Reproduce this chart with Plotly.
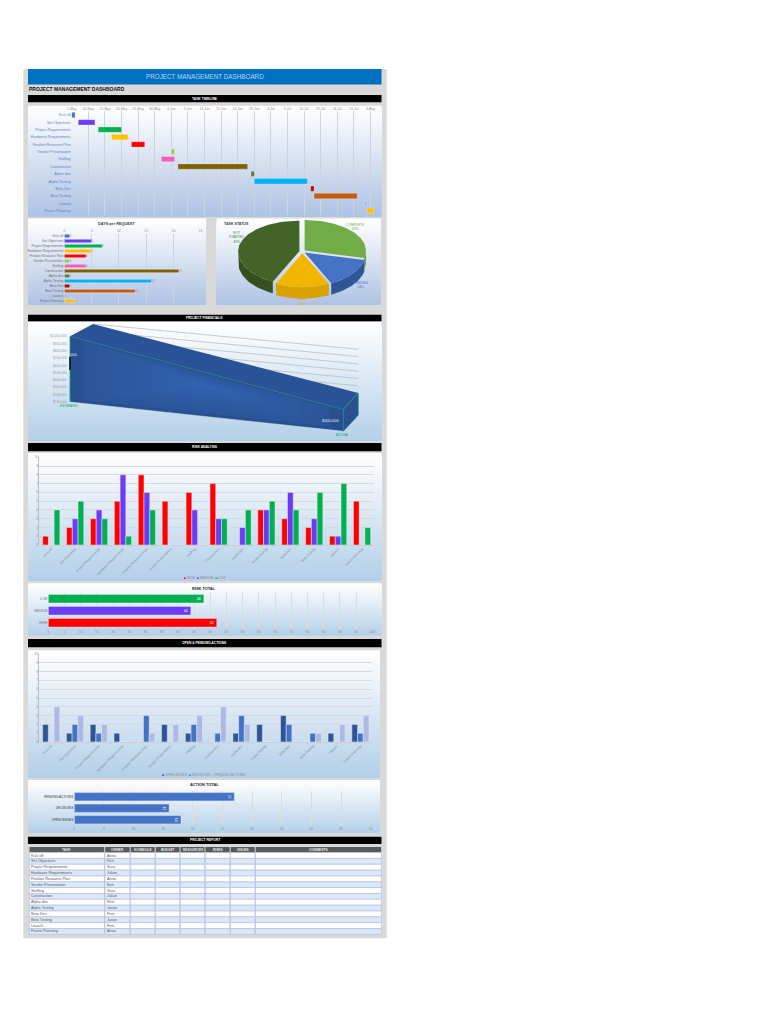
import numpy as np
import plotly.graph_objects as go

# ---------- data ----------
tasks = ["Kick off", "Set Objectives", "Project Requirements", "Hardware Requirements",
         "Finalize Resource Plan", "Vendor Presentation", "Staffing", "Construction",
         "Alpha dev", "Alpha Testing", "Beta Dev", "Beta Testing", "Launch", "Future Planning"]
owners = ["Anna", "Ken", "Sara", "Julian", "Anna", "Ken", "Sara", "Julian", "Finn", "Jason",
          "Finn", "Jason", "Finn", "Anna"]
start_dates = ["2019-05-05", "2019-05-07", "2019-05-13", "2019-05-17", "2019-05-23", "2019-06-04",
               "2019-06-01", "2019-06-06", "2019-06-28", "2019-06-29", "2019-07-16", "2019-07-17",
               "2019-08-01", "2019-08-02"]
calendar_days = [1, 5, 7, 5, 4, 1, 4, 21, 1, 16, 1, 13, 1, 2]
days_per_request = [1, 5, 7, 5, 4, 1, 4, 21, 1, 16, 1, 13, 0, 2]
task_colors = ["#4472C4", "#6A3CF7", "#00B050", "#FFC000", "#FF0000", "#92D050", "#F55FB5",
               "#7F6000", "#548235", "#00B0F0", "#C00000", "#C55A11", "#9DC3E6", "#FFC000"]
status_labels = ["COMPLETE", "PENDING", "ON HOLD", "NOT STARTED"]
status_values = [4, 2, 2, 6]
status_top = ["#70AD47", "#4472C4", "#F2B600", "#426427"]
status_side = ["#5b8f38", "#2F5597", "#D9A200", "#34501F"]
status_text = ["#70AD47", "#4472C4", "#E0A800", "#548235"]
finance_labels = ["ESTIMATED", "ACTUAL"]
finance_values = [1000000, 400000]
finance_ticks = [1000000, 900000, 800000, 700000, 600000, 500000, 400000, 300000, 200000, 100000]
risk_high = [1, 2, 3, 5, 8, 5, 6, 7, 0, 4, 3, 2, 1, 5]
risk_medium = [0, 3, 4, 8, 6, 0, 4, 3, 2, 4, 6, 3, 1, 0]
risk_low = [4, 5, 3, 1, 4, 0, 0, 3, 4, 5, 4, 6, 7, 2]
risk_total_labels = ["HIGH", "MEDIUM", "LOW"]
risk_total_values = [52, 44, 48]
open_issues = [2, 1, 2, 1, 0, 2, 1, 0, 1, 2, 3, 0, 1, 2]
decisions = [0, 2, 1, 0, 3, 0, 2, 1, 3, 0, 2, 1, 0, 1]
pending = [4, 3, 2, 0, 1, 2, 3, 4, 2, 0, 0, 1, 2, 3]
action_labels = ["OPEN ISSUES", "DECISIONS", "PENDING ACTIONS"]
action_values = [18, 16, 27]
table_headers = ["TASK", "OWNER", "SCHEDULE", "BUDGET", "RESOURCES", "RISKS", "ISSUES", "COMMENTS"]

FONT = "Liberation Sans"
W, H = 768, 1024
GREY_TXT = "#8c8c8c"
GRID = "#d9d9d9"
shapes, annos = [], []
fig = go.Figure()


def X(p): return p / W
def Y(p): return 1 - p / H


def rect(x0, y0, x1, y1, color, line=None, lw=0.6):
    shapes.append(dict(type="rect", xref="paper", yref="paper", layer="below",
                       x0=X(x0), x1=X(x1), y0=Y(y0), y1=Y(y1), fillcolor=color,
                       line=dict(color=line or color, width=lw if line else 0)))


def gradient(x0, y0, x1, y1, top, bottom, step=2):
    c0 = np.array(top); c1 = np.array(bottom)
    for y in np.arange(y0, y1, step):
        t = (y - y0) / (y1 - y0)
        c = (c0 + (c1 - c0) * t).round().astype(int)
        rect(x0, y, x1, y1, f"rgb({c[0]},{c[1]},{c[2]})")


def txt(x, y, s, size=3.6, color=GREY_TXT, anchor="center", bold=False, angle=0):
    annos.append(dict(xref="paper", yref="paper", x=X(x), y=Y(y), text=f"<b>{s}</b>" if bold else s,
                      showarrow=False, xanchor=anchor, yanchor="middle", textangle=angle,
                      font=dict(family=FONT, size=size, color=color), borderpad=0, borderwidth=0))


def black_bar(y0, y1, s):
    rect(28, y0, 381.5, y1, "#000000")
    txt(204.5, (y0 + y1) / 2, s, size=3.3, color="#ffffff", bold=True)


axis_n = {"i": 0}


def new_axes(px0, px1, py0, py1, xcfg, ycfg):
    axis_n["i"] += 1
    n = axis_n["i"]
    sx = "" if n == 1 else str(n)
    base = dict(showline=False, zeroline=False, ticks="", tickfont=dict(family=FONT, size=3.4, color=GREY_TXT))
    xa = dict(base, domain=[X(px0), X(px1)], anchor=f"y{sx}", **xcfg)
    ya = dict(base, domain=[Y(py1), Y(py0)], anchor=f"x{sx}", **ycfg)
    fig.layout[f"xaxis{sx}"] = xa
    fig.layout[f"yaxis{sx}"] = ya
    return f"x{sx}", f"y{sx}"


# ---------- page frame ----------
rect(23.3, 69, 386.7, 938.3, "#D9D9D9")
rect(28, 69, 381.5, 84.5, "#0070C0")
txt(204.5, 76.5, "PROJECT MANAGEMENT DASHBOARD", size=6.3, color="#BFD8F0")
txt(28.5, 89, "PROJECT MANAGEMENT DASHBOARD", size=5, color="#111111", anchor="left", bold=True)

BLUE_END = (173, 194, 228)
SKY_END = (178, 207, 233)
WHITE = (255, 255, 255)

# ---------- task timeline ----------
black_bar(95, 102.3, "TASK TIMELINE")
gradient(28, 105.7, 381.5, 216.5, WHITE, BLUE_END)
ax, ay = new_axes(71.7, 376, 111.3, 214.4,
                  dict(type="date", side="top", range=["2019-05-05", "2019-08-04 16:00"],
                       tick0="2019-05-05", dtick=5 * 86400000, tickformat="%-d-%b",
                       showgrid=True, gridcolor="#cfd3da", gridwidth=1, ticklabelstandoff=0),
                  dict(type="category", autorange="reversed", showgrid=False,
                       tickfont=dict(family=FONT, size=3.7, color="#5b82c9")))
fig.add_trace(go.Bar(y=tasks, x=[d * 86400000 for d in calendar_days], base=start_dates, orientation="h",
                     xaxis=ax, yaxis=ay, marker=dict(color=task_colors, line=dict(color="rgba(255,255,255,.5)", width=0.5)),
                     showlegend=False, hoverinfo="skip"))

# ---------- days per request ----------
gradient(28, 218.5, 206, 305, WHITE, BLUE_END)
txt(116.7, 224, "DAYS per REQUEST", size=3.8, color="#404040", bold=True)
ax, ay = new_axes(64.3, 200.7, 233.5, 303.5,
                  dict(side="top", range=[0, 25], tick0=0, dtick=5, showgrid=True, gridcolor="#cfd3da", ticklabelstandoff=0),
                  dict(type="category", autorange="reversed", showgrid=False,
                       tickfont=dict(family=FONT, size=3.3, color="#6e6e6e")))
fig.add_trace(go.Bar(y=tasks, x=days_per_request, orientation="h", xaxis=ax, yaxis=ay,
                     marker=dict(color=task_colors), text=days_per_request, textposition="outside",
                     textfont=dict(family=FONT, size=3.2, color=GREY_TXT), cliponaxis=False,
                     showlegend=False, hoverinfo="skip"))

# ---------- overlay axes in page pixels for the 3D pie and box ----------
px, py = new_axes(0, W, 0, H, dict(range=[0, W], visible=False), dict(range=[H, 0], visible=False))


def poly(xs, ys, fill, line="rgba(0,0,0,0)", lw=0):
    fig.add_trace(go.Scatter(x=xs, y=ys, xaxis=px, yaxis=py, mode="lines", fill="toself", fillcolor=fill,
                             line=dict(color=line, width=lw), showlegend=False, hoverinfo="skip"))


def seg(xs, ys, color, lw=0.8):
    fig.add_trace(go.Scatter(x=xs, y=ys, xaxis=px, yaxis=py, mode="lines", line=dict(color=color, width=lw),
                             showlegend=False, hoverinfo="skip"))


# ---------- task status (tilted pie worked out from the values) ----------
gradient(216.7, 218.5, 381, 305, WHITE, BLUE_END)
txt(224, 223.5, "TASK STATUS", size=3.6, color="#404040", anchor="left", bold=True)
CX, CY, RX, RT, RB, DEPTH, EXPL = 302.3, 251.5, 61.2, 30.5, 34, 11.5, 3.0


def ell(a, ox, oy):
    c = np.cos(a)
    return ox + RX * np.sin(a), oy - c * np.where(c > 0, RT, RB)


total = sum(status_values)
fr = np.cumsum([0] + status_values) / total * 2 * np.pi
slices = []
for i in range(len(status_values)):
    a = np.linspace(fr[i], fr[i + 1], 80)
    mid = (fr[i] + fr[i + 1]) / 2
    ox = CX + EXPL * np.sin(mid)
    oy = CY - EXPL * 0.55 * np.cos(mid)
    slices.append((a, ox, oy))
for i, (a, ox, oy) in enumerate(slices):
    fa = a[(np.cos(a) <= 0.02)]
    if len(fa):
        x1, y1 = ell(fa, ox, oy)
        poly(list(x1) + list(x1[::-1]), list(y1) + list((y1 + DEPTH)[::-1]), status_side[i])
for i, (a, ox, oy) in enumerate(slices):
    x1, y1 = ell(a, ox, oy)
    poly([ox] + list(x1) + [ox], [oy] + list(y1) + [oy], status_top[i])
label_pos = [(355, 226.5), (360, 284.5), (302.5, 299.5), (237, 237.5)]
for i, (lx, ly) in enumerate(label_pos):
    pct = f"{round(status_values[i] / total * 100)}%"
    words = status_labels[i].split(" ")
    txt(lx, ly, "<br>".join(words + [pct]), size=3.3, color=status_text[i])

# ---------- project financials (box worked out from the values) ----------
black_bar(314.7, 321.3, "PROJECT FINANCIALS")
gradient(28, 322, 381.5, 441, WHITE, SKY_END)
PER_100K = 7.3


def proj(t, value, depth):
    xf, xb = 70 + 273.3 * t, 93 + 265.3 * t
    bf, bb = 402 + 29.3 * t, 389.7 + 25.3 * t
    x = xf + (xb - xf) * depth
    b = bf + (bb - bf) * depth
    return x, b - (value - 100000) / 100000 * PER_100K


for v in finance_ticks[:6]:
    a = proj(0, v, 1); b = proj(1, v, 1)
    seg([a[0], b[0]], [a[1], b[1]], "#bdbdbd", 0.8)
for v in finance_ticks:
    a = proj(0, v, 0)
    txt(a[0] - 3, a[1], f"${v:,}", size=3.3, color="#999999", anchor="right")
vmin = finance_ticks[-1]
v0, v1 = finance_values
f = [proj(0, vmin, 0), proj(1, vmin, 0), proj(1, v1, 0), proj(0, v0, 0)]
t = [proj(0, v0, 0), proj(1, v1, 0), proj(1, v1, 1), proj(0, v0, 1)]
r = [proj(1, vmin, 0), proj(1, vmin, 1), proj(1, v1, 1), proj(1, v1, 0)]
poly([p[0] for p in t] + [t[0][0]], [p[1] for p in t] + [t[0][1]], "#2A5397")
poly([p[0] for p in r] + [r[0][0]], [p[1] for p in r] + [r[0][1]], "#2A5090")
poly([p[0] for p in f] + [f[0][0]], [p[1] for p in f] + [f[0][1]], "#28508F")
# soft glow on the front face, shrunk toward its centre
fx, fy = np.array([p[0] for p in f]), np.array([p[1] for p in f])
mx, my = 205.0, 385.0
c0, c1 = np.array([42, 84, 150]), np.array([50, 98, 176])
for k in range(1, 10):
    s = 1 - k / 10
    c = (c0 + (c1 - c0) * k / 9).round().astype(int)
    gx = mx + (fx - mx) * s
    gy = my + (fy - my) * s
    poly(list(gx) + [gx[0]], list(gy) + [gy[0]], f"rgb({c[0]},{c[1]},{c[2]})")
EDGE = "#12A27A"
seg([f[3][0], f[2][0], f[1][0]], [f[3][1], f[2][1], f[1][1]], "#1C7C8A", 0.7)
seg([f[0][0], f[3][0]], [f[0][1], f[3][1]], EDGE, 0.9)
seg([f[2][0], r[2][0], r[1][0]], [f[2][1], r[2][1], r[1][1]], EDGE, 0.7)
seg([f[1][0], r[1][0]], [f[1][1], r[1][1]], "#1C7C8A", 0.7)
seg([f[0][0], f[1][0]], [f[0][1], f[1][1]], "#D8E8F4", 0.5)
seg([f[3][0], f[3][0]], [357, 370], "#111111", 1.6)
txt(73.5, 354.3, "000", size=4, color="#E6EEF8")
txt(330, 420, f"${v1:,}", size=4, color="#E6EEF8")
txt(69, 405.5, finance_labels[0], size=3.2, color="#00B050")
txt(342.5, 435.3, finance_labels[1], size=3.2, color="#00B050")

# ---------- risk analysis ----------
black_bar(443, 451.3, "RISK ANALYSIS")
gradient(28, 453, 381.5, 581, WHITE, SKY_END)
ax, ay = new_axes(39.3, 374, 457.3, 545,
                  dict(type="category", tickangle=-45, showgrid=False, showline=True, linecolor="#cfcfcf", linewidth=0.6,
                       tickfont=dict(family=FONT, size=3.4, color=GREY_TXT)),
                  dict(range=[0, 10], tick0=0, dtick=1, showgrid=True, gridcolor=GRID, showline=True,
                       linecolor="#bdbdbd", linewidth=0.7, tickfont=dict(family=FONT, size=3, color=GREY_TXT)))
for name, vals, col in [("HIGH", risk_high, "#FF0000"), ("MEDIUM", risk_medium, "#6A3CF7"), ("LOW", risk_low, "#00B050")]:
    fig.add_trace(go.Bar(name=name, x=tasks, y=vals, xaxis=ax, yaxis=ay, marker_color=col, showlegend=False, hoverinfo="skip"))
txt(204.5, 578.3, '<span style="color:#FF0000">■</span> HIGH  <span style="color:#6A3CF7">■</span> MEDIUM  '
    '<span style="color:#00B050">■</span> LOW', size=3.3)

# ---------- risk total ----------
gradient(28, 583.3, 381.5, 635.3, WHITE, SKY_END)
txt(204.3, 588, "RISK TOTAL", size=3.9, color="#262626", bold=True)
ax, ay = new_axes(48.3, 372.3, 592.7, 628.7,
                  dict(range=[0, 100], tick0=0, dtick=5, showgrid=True, gridcolor="#e0dcd2"),
                  dict(type="category", autorange="reversed", showgrid=False, categoryorder="array",
                       categoryarray=risk_total_labels[::-1], tickfont=dict(family=FONT, size=3.2, color="#6e6e6e")))
fig.add_trace(go.Bar(y=risk_total_labels, x=risk_total_values, orientation="h", xaxis=ax, yaxis=ay,
                     marker=dict(color=["#FF0000", "#6A3CF7", "#00B050"], line=dict(color="rgba(255,255,255,.6)", width=0.6)),
                     text=risk_total_values, textposition="inside", insidetextanchor="end", constraintext="none",
                     textfont=dict(family=FONT, size=3.6, color="#ffffff"), showlegend=False, hoverinfo="skip"))

# ---------- open & pending actions ----------
black_bar(639, 647.3, "OPEN & PENDING ACTIONS")
gradient(28, 650.3, 380, 778, WHITE, SKY_END)
ax, ay = new_axes(39.3, 372.3, 654, 742,
                  dict(type="category", tickangle=-45, showgrid=False, showline=True, linecolor="#cfcfcf", linewidth=0.6,
                       tickfont=dict(family=FONT, size=3.4, color=GREY_TXT)),
                  dict(range=[0, 10], tick0=0, dtick=1, showgrid=True, gridcolor=GRID, showline=True,
                       linecolor="#bdbdbd", linewidth=0.7, tickfont=dict(family=FONT, size=3, color=GREY_TXT)))
for name, vals, col in [("OPEN ISSUES", open_issues, "#2F5597"), ("DECISIONS", decisions, "#4472C4"), ("PENDING ACTIONS", pending, "#ADB9E3")]:
    fig.add_trace(go.Bar(name=name, x=tasks, y=vals, xaxis=ax, yaxis=ay, marker_color=col, showlegend=False, hoverinfo="skip"))
txt(204, 774.7, '<span style="color:#2F5597">■</span> OPEN ISSUES  <span style="color:#4472C4">■</span> DECISIONS  '
    '<span style="color:#ADB9E3">■</span> PENDING ACTIONS', size=3.3)

# ---------- action total ----------
gradient(28, 780, 380, 832.5, WHITE, SKY_END)
txt(204.3, 784.7, "ACTION TOTAL", size=3.9, color="#262626", bold=True)
ax, ay = new_axes(74.3, 370.7, 791, 825.5,
                  dict(range=[0, 50], tick0=0, dtick=5, showgrid=True, gridcolor="#e0dcd2"),
                  dict(type="category", autorange="reversed", showgrid=False, categoryorder="array",
                       categoryarray=action_labels[::-1], tickfont=dict(family=FONT, size=3.2, color="#333333")))
fig.add_trace(go.Bar(y=action_labels, x=action_values, orientation="h", xaxis=ax, yaxis=ay,
                     marker=dict(color="#4472C4"), text=action_values, textposition="inside", insidetextanchor="end",
                     constraintext="none", textfont=dict(family=FONT, size=3.4, color="#ffffff"),
                     showlegend=False, hoverinfo="skip"))

# ---------- project report table ----------
black_bar(836.7, 844, "PROJECT REPORT")
col_edges = [29, 104.7, 130.2, 155.2, 180, 205, 230.2, 255.2, 381.7]
TOP, HEAD, ROW = 847, 852.6, 5.84
LINE = "#A9C0E6"
for j, name in enumerate(table_headers):
    rect(col_edges[j] + 0.5, TOP, col_edges[j + 1] - 0.5, HEAD, "#595959")
    txt((col_edges[j] + col_edges[j + 1]) / 2, (TOP + HEAD) / 2, name, size=3.2, color="#E8E8E8", bold=True)
for i, task in enumerate(tasks):
    y0 = HEAD + i * ROW
    fill = "#FFFFFF" if i % 2 == 0 else "#DCE8F6"
    for j in range(len(table_headers)):
        rect(col_edges[j] + 0.3, y0, col_edges[j + 1] - 0.3, y0 + ROW, fill, LINE, 0.6)
    txt(31, y0 + ROW / 2, task, size=3.8, color="#595959", anchor="left")
    txt(107, y0 + ROW / 2, owners[i], size=3.8, color="#595959", anchor="left")

fig.update_layout(width=W, height=H, margin=dict(l=0, r=0, t=0, b=0, pad=0, autoexpand=False), paper_bgcolor="#ffffff",
                  plot_bgcolor="rgba(0,0,0,0)", barmode="group", bargap=0.28, bargroupgap=0,
                  font=dict(family=FONT), shapes=shapes, annotations=annos, showlegend=False, autosize=False)
fig.write_html("out.html", post_script="document.body.style.margin='0';", config=dict(displayModeBar=False))
